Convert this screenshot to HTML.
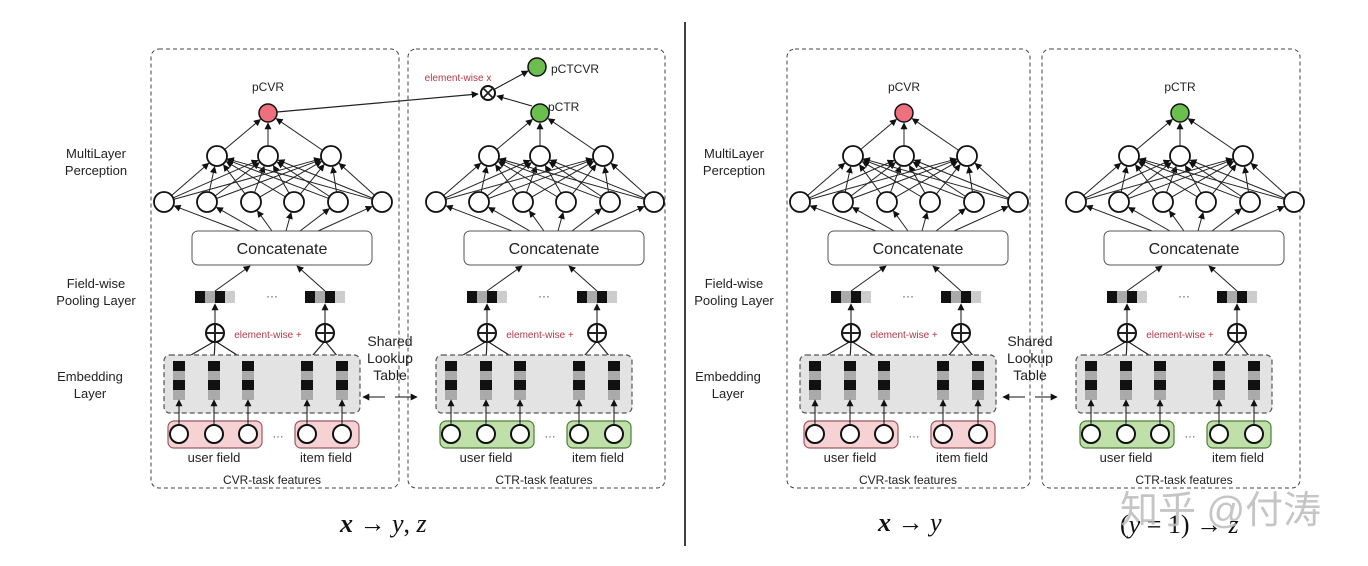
<!DOCTYPE html>
<html><head><meta charset="utf-8"><style>
html,body{margin:0;padding:0;background:#fff;}
svg{display:block;font-family:"Liberation Sans",sans-serif;}
</style></head><body>
<svg id="s" width="1368" height="566" viewBox="0 0 1368 566" xmlns="http://www.w3.org/2000/svg">
<defs>
<marker id="a" viewBox="0 0 10 10" refX="9" refY="5" markerWidth="7" markerHeight="7" orient="auto-start-reverse" markerUnits="userSpaceOnUse"><path d="M0,0 L10,5 L0,10 z" fill="#111"/></marker>
</defs>
<line x1="685" y1="22" x2="685" y2="546" stroke="#000" stroke-width="1.5"/>
<g id="g"></g>
</svg>
<script>
var g=document.getElementById('g');var h='';
function L(x1,y1,x2,y2,arrow,w){h+='<line x1="'+x1+'" y1="'+y1+'" x2="'+x2+'" y2="'+y2+'" stroke="#222" stroke-width="'+(w||1)+'"'+(arrow?' marker-end="url(#a)"':'')+'/>';}
function C(x,y,r,f,w){h+='<circle cx="'+x+'" cy="'+y+'" r="'+r+'" fill="'+f+'" stroke="#111" stroke-width="'+(w||1.8)+'"/>';}
function R(x,y,w,hh,f,extra){h+='<rect x="'+x+'" y="'+y+'" width="'+w+'" height="'+hh+'" fill="'+f+'" '+(extra||'')+'/>';}
function T(x,y,s,t,extra){h+='<text x="'+x+'" y="'+y+'" font-size="'+s+'" text-anchor="middle" '+(extra||'')+'>'+t+'</text>';}
function toward(x1,y1,x2,y2,r){var dx=x2-x1,dy=y2-y1,d=Math.sqrt(dx*dx+dy*dy);return [x2-dx/d*r,y2-dy/d*r];}
function panel(o,topCol,fieldCol,fieldStroke,label,topLabel){
 var l1=[164,207,251,294,338,382],l2=[217,268,331],ty=113,y2=156,y1=202;
 var src=[240,258,272,286,300,318];
 for(var i=0;i<6;i++){var p=toward(src[i]+o,231,l1[i]+o,y1,11);L(src[i]+o,231,p[0],p[1],1);}
 for(var i=0;i<6;i++)for(var j=0;j<3;j++){var p=toward(l1[i]+o,y1,l2[j]+o,y2,11);var q=toward(l2[j]+o,y2,l1[i]+o,y1,10);L(q[0],q[1],p[0],p[1],1);}
 for(var j=0;j<3;j++){var p=toward(l2[j]+o,y2,268+o,ty,10);var q=toward(268+o,ty,l2[j]+o,y2,10);L(q[0],q[1],p[0],p[1],1);}
 for(var i=0;i<6;i++)C(l1[i]+o,y1,10,'#fff');
 for(var j=0;j<3;j++)C(l2[j]+o,y2,10,'#fff');
 C(268+o,ty,9,topCol,1.5);
 if(topLabel)T(268+o,91,12,topLabel,'fill="#222"');
 R(192+o,231,180,34,'#fff','rx="6" stroke="#555" stroke-width="1"');
 T(282+o,254,16,'Concatenate','fill="#222"');
 L(215+o,291,250+o,266,1);L(325+o,291,297+o,266,1);
 [195,305].forEach(function(x){R(x+o,291,10,12,'#111');R(x+10+o,291,10,12,'#aaa');R(x+20+o,291,10,12,'#111');R(x+30+o,291,10,12,'#ccc');});
 T(272+o,300,12,'···','fill="#444"');
 [[215,[179,214,248]],[325,[307,342]]].forEach(function(pp){var x=pp[0]+o;pp[1].forEach(function(c){L(c+o,362,x,341,0,1.2);});
  h+='<line x1="'+x+'" y1="324" x2="'+x+'" y2="304" stroke="#111" marker-end="url(#a)"/>';
  C(x,333,9,'#fff',2);L(x-9,333,x+9,333,0,2);L(x,324,x,342,0,2);});
 T(268+o,338,10,'element-wise +','fill="#b03a48"');
 R(164+o,355,196,58,'#e3e3e3','rx="6" stroke="#555" stroke-width="1.2" stroke-dasharray="5,3"');
 var cols=[179,214,248,307,342];
 cols.forEach(function(c){var x=c-6+o;R(x,361,12,10,'#111');R(x,371,12,9,'#aaa');R(x,380,12,10,'#111');R(x,390,12,10,'#aaa');});
 R(168+o,421,94,27,fieldCol,'rx="6" stroke="'+fieldStroke+'" stroke-width="1.2"');
 R(295+o,421,64,27,fieldCol,'rx="6" stroke="'+fieldStroke+'" stroke-width="1.2"');
 T(278+o,440,11,'···','fill="#444"');
 cols.forEach(function(c){C(c+o,434,9,'#fff',2);h+='<line x1="'+(c+o)+'" y1="425" x2="'+(c+o)+'" y2="400" stroke="#111" marker-end="url(#a)"/>';});
 T(214+o,462,13,'user field','fill="#222"');T(326+o,462,13,'item field','fill="#222"');
 T(272+o,484,12,label,'fill="#222"');
}
function box(x1,x2){R(x1,49,x2-x1,439,'none','rx="8" stroke="#444" stroke-width="1" stroke-dasharray="4,3"');}
box(151,399);box(408,665);box(787,1030);box(1042,1300);
panel(0,'#ee6f7d','#f6d2d4','#9a5a5e','CVR-task features','pCVR');
panel(272,'#6cbf4f','#bfe0a8','#4d7d3a','CTR-task features',null);
panel(636,'#ee6f7d','#f6d2d4','#9a5a5e','CVR-task features','pCVR');
panel(912,'#6cbf4f','#bfe0a8','#4d7d3a','CTR-task features','pCTR');
h+='<text x="548" y="111" font-size="12" fill="#222">pCTR</text>';
C(537,67,9,'#6cbf4f',1.5);h+='<text x="551" y="73" font-size="12" fill="#222">pCTCVR</text>';
L(277,112,478,94,1,1.2);
h+='<line x1="532" y1="106" x2="497" y2="96" stroke="#111" marker-end="url(#a)"/>';
h+='<line x1="495" y1="89" x2="528" y2="71" stroke="#111" marker-end="url(#a)"/>';
C(488,93,7,'#fff',2);L(483,88,493,98,0,1.8);L(493,88,483,98,0,1.8);
T(458,81,10,'element-wise x','fill="#b03a48"');
[[0],[638]].forEach(function(a){var o=a[0];
 T(96+o,158,13,'MultiLayer','fill="#222"');T(96+o,175,13,'Perception','fill="#222"');
 T(96+o,288,13,'Field-wise','fill="#222"');T(96+o,305,13,'Pooling Layer','fill="#222"');
 T(90+o,381,13,'Embedding','fill="#222"');T(90+o,398,13,'Layer','fill="#222"');
});
[[390],[1030]].forEach(function(a){var x=a[0];
 T(x,346,14,'Shared','fill="#222"');T(x,363,14,'Lookup','fill="#222"');T(x,380,14,'Table','fill="#222"');
 h+='<line x1="'+(x+5)+'" y1="397" x2="'+(x+27)+'" y2="397" stroke="#111" marker-end="url(#a)"/>';
 h+='<line x1="'+(x-5)+'" y1="397" x2="'+(x-27)+'" y2="397" stroke="#111" marker-end="url(#a)"/>';
});
var ser='font-family="Liberation Serif,serif" fill="#111"';
h+='<text x="340" y="532" font-size="26" '+ser+'><tspan font-weight="bold" font-style="italic">x</tspan> → <tspan font-style="italic">y</tspan>, <tspan font-style="italic">z</tspan></text>';
h+='<text x="878" y="531" font-size="26" '+ser+'><tspan font-weight="bold" font-style="italic">x</tspan> → <tspan font-style="italic">y</tspan></text>';
h+='<text x="1120" y="533" font-size="26" '+ser+'>(<tspan font-style="italic">y</tspan> = 1) → <tspan font-style="italic">z</tspan></text>';
h+='<text x="1120" y="523" font-size="38" fill="#bbb" fill-opacity="0.85" font-family="Liberation Sans,Noto Sans CJK SC,sans-serif">知乎 @付涛</text>';
g.innerHTML=h;
</script>
</body></html>
